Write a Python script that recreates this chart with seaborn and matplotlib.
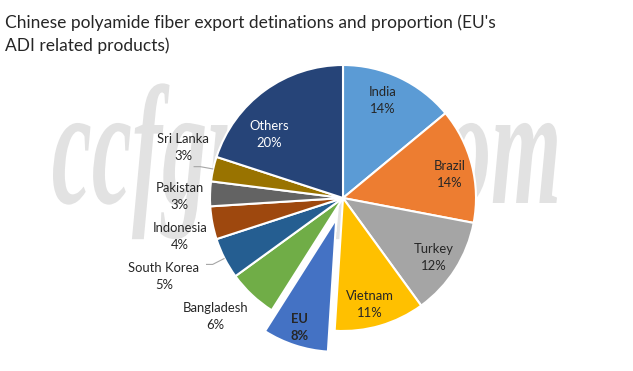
import matplotlib
matplotlib.use("Agg")
import numpy as np
import matplotlib.pyplot as plt
import seaborn as sns
from matplotlib.textpath import TextPath
from matplotlib.patches import PathPatch
from matplotlib.font_manager import FontProperties
from matplotlib.transforms import Affine2D

# ---------------- data ----------------
countries = ["India", "Brazil", "Turkey", "Vietnam", "EU", "Bangladesh",
             "South Korea", "Indonesia", "Pakistan", "Sri Lanka", "Others"]
shares = [14, 14, 12, 11, 8, 6, 5, 4, 3, 3, 20]
pct_labels = [f"{v}%" for v in shares]
slice_colors = ["#5B9BD5", "#ED7D31", "#A5A5A5", "#FFC000", "#4472C4", "#70AD47",
                "#255E91", "#9E480E", "#636363", "#997300", "#264478"]
title_lines = ["Chinese polyamide fiber export detinations and proportion (EU's",
               "ADI related products)"]
watermark = "ccfgroup.com"
highlight = "EU"

# ---------------- style ----------------
sns.set_style("white")
plt.rcParams['font.family'] = ['Lato', 'DejaVu Sans']

W, H = 633, 371
R = 133.0           # pie radius in px
CX, CY = 343, 198   # pie centre in px (from top-left)

# label placement style: (radius factor, angle offset in deg)
label_style = {
    "India": (0.79, 2.9), "Brazil": (0.82, -1.8), "Turkey": (0.815, -1.1),
    "Vietnam": (0.825, -2.2), "EU": (0.86, -0.5), "Others": (0.73, 13.5),
    "Bangladesh": (1.31, -4.0), "South Korea": (1.47, -3.4),
    "Indonesia": (1.26, 2.5), "Pakistan": (1.23, 1.3), "Sri Lanka": (1.26, -4.9),
}
leader = {"Sri Lanka", "South Korea"}

fig = plt.figure(figsize=(W / 100, H / 100), dpi=100)
fig.patch.set_facecolor("white")
ax = fig.add_axes([0, 0, 1, 1])
ax.patch.set_visible(False)

# watermark
fp = FontProperties(family="Liberation Serif", style="italic", weight="bold")
wpath = TextPath((0, 0), watermark, size=1, prop=fp)
xh = TextPath((0, 0), "x", size=1, prop=fp).get_extents().height
bb = wpath.get_extents()
sx = (557 - 53) / bb.width
sy = 78 / xh
tr = (Affine2D().translate(-bb.x0, 0).scale(sx, sy).translate(53, H - 203)
      .scale(1 / W, 1 / H) + fig.transFigure)
wm = PathPatch(wpath, transform=tr, facecolor="#e2e2e2", edgecolor="none", zorder=-5)
fig.add_artist(wm)

explode = [0.165 if c == highlight else 0 for c in countries]
wedges, _ = ax.pie(shares, colors=slice_colors, startangle=90, counterclock=False,
                   explode=explode, radius=1,
                   wedgeprops=dict(edgecolor="white", linewidth=1.5))

# title
t1 = fig.text(5 / W, 1 - 28 / H, title_lines[0], fontsize=14, color="#262626",
              ha="left", va="baseline")
t2 = fig.text(5 / W, 1 - 51 / H, title_lines[1], fontsize=14, color="#262626",
              ha="left", va="baseline")
fig.canvas.draw()
r = fig.canvas.get_renderer()
fs_title = 14 * 493 / t1.get_window_extent(r).width
t1.set_fontsize(fs_title)
t2.set_fontsize(fs_title)

probe = ax.text(0, 0, "South Korea", fontsize=10)
fig.canvas.draw()
fs_lab = 10 * 71 / probe.get_window_extent(r).width
probe.remove()

dy = 8.5 / R
for w, name, pct in zip(wedges, countries, pct_labels):
    mid = 0.5 * (w.theta1 + w.theta2)
    rf, dth = label_style[name]
    a = np.deg2rad(mid + dth)
    x = w.center[0] + rf * np.cos(a)
    y = w.center[1] + rf * np.sin(a)
    col = "white" if name == "Others" else "#262626"
    weight = "bold" if name == highlight else "normal"
    ax.text(x, y + dy, name, ha="center", va="center", fontsize=fs_lab,
            color=col, fontweight=weight)
    ax.text(x, y - dy, pct, ha="center", va="center", fontsize=fs_lab,
            color=col, fontweight=weight)
    if name in leader:
        am = np.deg2rad(mid)
        ex, ey = np.cos(am), np.sin(am)
        kx, ky = 1.1 * ex, 1.1 * ey
        if name == "Sri Lanka":
            ky = 1.08 * ey
        ax.plot([ex, kx, kx - 0.05], [ey, ky, ky], color="#a6a6a6",
                lw=0.8, solid_capstyle="butt")

ax.set_aspect("auto")
ax.set_xlim(-CX / R, (W - CX) / R)
ax.set_ylim(-(H - CY) / R, CY / R)
ax.axis("off")

fig.savefig("out.png", dpi=100, facecolor="white")
